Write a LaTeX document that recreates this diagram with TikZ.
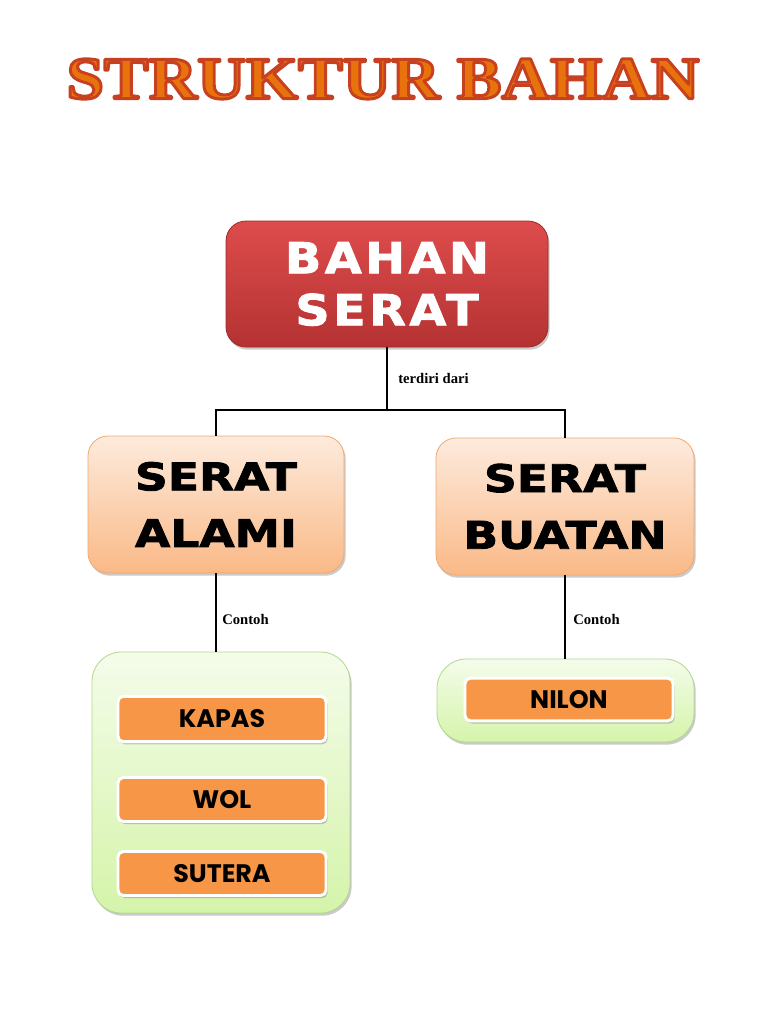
\documentclass[tikz,border=0pt]{standalone}
\usepackage{fontspec}
\setmainfont{Liberation Serif}
\newfontfamily\titlefont{Liberation Serif}[FakeStretch=1.12]
\newfontfamily\heavyfont{DejaVu Sans}[FakeStretch=1.2, FakeBold=2.2]
\newfontfamily\redfont{DejaVu Sans}[FakeStretch=1.12, LetterSpace=8, FakeBold=2]
\newfontfamily\decofont{Poppins}
\usetikzlibrary{shadows}
\definecolor{titleorange}{HTML}{E8720C}
\definecolor{redtop}{HTML}{DE4C4C}
\definecolor{redbot}{HTML}{B53232}
\definecolor{rededge}{HTML}{A02828}
\definecolor{peachtop}{HTML}{FDEBDD}
\definecolor{peachbot}{HTML}{FAB987}
\definecolor{peachedge}{HTML}{F2A86E}
\definecolor{greentop}{HTML}{F4FCEA}
\definecolor{greenbot}{HTML}{D5F4AA}
\definecolor{greenedge}{HTML}{B2D88C}
\definecolor{itemorange}{HTML}{F79646}
\newcommand{\outlinedtext}[1]{\special{pdf:code 2 Tr 2.2 w 1 j 0.78 0.25 0.12 RG}#1\special{pdf:code 0 Tr}}
\tikzset{
  boxshadow/.style={drop shadow={shadow xshift=1.2pt, shadow yshift=-2pt, opacity=0.35, fill=black!60}},
  redbox/.style={rounded corners=15pt, top color=redtop, bottom color=redbot, draw=rededge, line width=0.6pt, boxshadow, align=center, text=white, font=\redfont\bfseries\fontsize{32}{39}\selectfont},
  peachbox/.style={rounded corners=15pt, top color=peachtop, bottom color=peachbot, draw=peachedge, line width=0.6pt, boxshadow, align=center, text=black, font=\heavyfont\bfseries\fontsize{28.5}{42.5}\selectfont},
  greenbox/.style={rounded corners=22pt, top color=greentop, bottom color=greenbot, draw=greenedge, line width=0.6pt, boxshadow},
  itembox/.style={rounded corners=4pt, fill=itemorange, draw=white, line width=2.2pt, boxshadow, minimum width=156pt, font=\decofont\bfseries\fontsize{19}{22}\selectfont, text=black},
  conn/.style={line width=1.9pt, black},
  lbl/.style={font=\bfseries\fontsize{11}{13}\selectfont, text=black, anchor=west, inner sep=0pt}
}
\begin{document}
\begin{tikzpicture}[x=0.75pt,y=-0.75pt]
\useasboundingbox (0,0) rectangle (768,1024);
% title
\node[text=titleorange, font=\titlefont\bfseries\fontsize{45}{48}\selectfont] (title) at (383,79) {\outlinedtext{STRUKTUR BAHAN}};
% main boxes
\node[redbox, minimum width=241.5pt, minimum height=94.5pt] (bahan) at (387,284) {BAHAN\\SERAT};
\node[peachbox, minimum width=192pt, minimum height=102.75pt] (alami) at (216,504.5) {SERAT\\ALAMI};
\node[peachbox, minimum width=193.5pt, minimum height=102.75pt] (buatan) at (565,506.5) {SERAT\\BUATAN};
% groups
\node[greenbox, minimum width=193.5pt, minimum height=195.75pt] (alamigrp) at (221,782.5) {};
\node[greenbox, minimum width=192.75pt, minimum height=62.25pt] (buatangrp) at (565.5,700.5) {};
% items
\node[itembox, minimum height=34pt] (kapas) at (222,719) {KAPAS};
\node[itembox, minimum height=33pt] (wol) at (222,799.5) {WOL};
\node[itembox, minimum height=33pt] (sutera) at (222,873.5) {SUTERA};
\node[itembox, minimum height=32pt] (nilon) at (569,699.5) {NILON};
% connectors
\coordinate (junction) at (387,410);
\draw[conn] (bahan.south) -- (junction);
\draw[conn] (alami.north) |- (junction);
\draw[conn] (buatan.north) |- (junction);
\draw[conn] (alami.south) -- (alami.south |- alamigrp.north);
\draw[conn] (buatan.south) -- (buatan.south |- buatangrp.north);
% labels
\node[lbl] (lterdiri) at (398,378) {terdiri dari};
\node[lbl] (lcontoh1) at (222,619) {Contoh};
\node[lbl] (lcontoh2) at (573,619) {Contoh};
\end{tikzpicture}
\end{document}
